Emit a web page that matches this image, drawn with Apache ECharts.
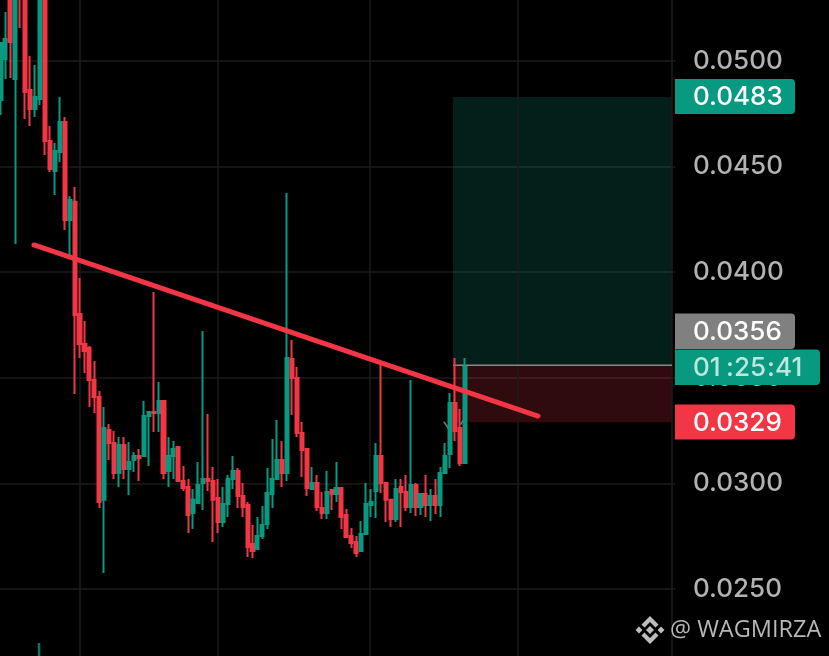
<!DOCTYPE html>
<html><head><meta charset="utf-8">
<style>html,body{margin:0;padding:0;background:#000}#c{width:829px;height:656px}</style>
<script src="https://cdn.jsdelivr.net/npm/echarts@6/dist/echarts.min.js"></script>
</head><body><div id="c"></div>
<script>
const opens=[.04815,.05010,.0535,.04915,.0537,.0535,.04863,.04773,.04820,.0535,.04621,.04479,.04569,.04711,.04247,.04333,.03802,.03660,.03641,.03490,.03409,.02922,.03253,.03191,.03049,.03182,.03068,.03111,.03130,.03130,.03319,.03338,.03333,.03390,.03059,.03130,.03172,.03011,.02983,.02860,.02907,.03002,.03021,.03011,.02931,.02817,.02903,.03021,.03059,.02940,.02898,.02713,.02689,.02751,.02808,.02950,.03021,.03111,.03049,.03589,.03499,.03239,.03163,.02973,.03002,.02884,.02860,.02969,.02950,.02978,.02850,.02751,.02723,.02680,.02761,.02898,.02964,.03130,.03002,.02922,.02832,.02983,.02959,.02888,.02993,.02888,.02950,.02898,.02940,.02898,.03049,.03139,.03381,.03262,.03097];
const closes=[.05085,.05104,.05090,.0535,.0532,.04853,.04773,.04830,.0535,.04621,.04489,.04574,.04711,.04247,.04342,.03797,.03660,.03627,.03490,.03409,.02912,.03262,.03191,.03049,.03182,.03068,.03101,.03130,.03120,.03319,.03338,.03333,.03390,.03049,.03130,.03163,.03011,.02978,.02850,.02922,.02993,.03021,.03011,.02922,.02817,.02903,.03021,.03059,.02940,.02888,.02699,.02680,.02751,.02803,.02955,.03021,.03111,.03049,.03594,.03499,.03239,.03158,.02978,.03002,.02888,.02860,.02959,.02950,.02978,.02841,.02746,.02718,.02671,.02761,.02903,.02912,.03130,.03002,.02922,.02832,.02973,.02959,.02888,.02993,.02888,.02950,.02898,.02940,.02898,.03049,.03130,.03381,.03248,.03097,.03551];
const lows=[.04744,.04915,.04920,.04134,.05156,.04725,.04692,.04735,.04792,.04555,.04475,.04366,.04522,.04200,.04077,.03423,.03594,.03523,.03362,.03333,.02884,.02576,.03111,.03021,.02983,.03021,.02945,.03054,.03011,.03130,.03082,.03243,.03243,.03021,.02983,.03021,.03011,.02964,.02765,.02784,.02907,.02874,.02964,.02723,.02765,.02794,.02841,.02973,.02884,.02841,.02652,.02647,.02689,.02737,.02784,.02884,.03021,.02983,.03011,.03324,.03220,.03030,.02940,.02969,.02869,.02832,.02832,.02874,.02912,.02784,.02746,.02694,.02652,.02680,.02761,.02841,.02836,.02955,.02817,.02794,.02817,.02794,.02869,.02860,.02846,.02850,.02841,.02822,.02855,.02841,.03049,.03073,.03201,.03082,.03097];
const highs=[.05085,.05232,.0537,.0537,.0537,.0537,.05024,.04981,.0537,.0537,.04692,.04612,.04830,.04735,.04361,.04404,.03973,.03769,.03651,.03580,.03438,.03362,.03281,.03248,.03220,.03220,.03196,.03149,.03163,.03390,.03338,.03906,.03480,.03390,.03220,.03201,.03172,.03082,.03021,.02973,.03101,.03722,.03329,.03078,.03021,.02983,.03040,.03130,.03073,.03002,.02912,.02803,.02841,.02893,.03073,.03210,.03300,.03201,.04375,.03679,.03551,.03291,.03163,.03078,.03040,.02959,.03059,.02969,.03101,.02978,.02879,.02789,.02751,.02822,.03002,.02973,.03191,.03561,.03002,.02922,.03021,.03021,.03040,.03490,.03002,.02950,.03040,.02973,.03021,.03078,.03191,.03428,.03594,.03352,.03594];
const slotCount=137;
const categories=Array.from({length:slotCount},(_,i)=>String(i));
const trendLine=[[7.28,.04129],[109.27,.03319]];
const stubWick=[[8.3,.02244],[8.3,.0215]];
const chevron=[[90.2,.03292],[91.2,.03259],null,[93.6,.03278],[94.2,.03300]];
const timeGrid=[16.6,44.5,75.3,105.2,136.4];
const priceAxisMin=.02, priceAxisMax=.055, priceStep=.005;
const targetPrice=.0483, entryPrice=.0356, stopPrice=.0329;
const zoneStart=92.07, zoneEnd=136.4;
const tags=[
 {parts:[['0.0483',693]],bg:'#089981',fg:'#fff',top:79,h:35,w:120},
 {parts:[['0.0356',693]],bg:'#808080',fg:'#fff',top:313.5,h:35.5,w:120},
 {parts:[['0.0329',693]],bg:'#f23645',fg:'#fff',top:404.5,h:35,w:120},
 {parts:[['01',693],[':',726],['25',734],[':',767],['41',775]],bg:'#089981',fg:'#bde6dd',top:349.5,h:35.5,w:145}
];
const RED='#f23645', GREEN='#089981', GRID='#1b1b1b';
const chart=echarts.init(document.getElementById('c'),null,{renderer:'canvas'});
const FONT='Inter';
const graphic=[];
tags.forEach(t=>{
 graphic.push({type:'rect',z:50,shape:{x:675,y:t.top,width:t.w,height:t.h,r:[0,4,4,0]},style:{fill:t.bg}});
 t.parts.forEach(p=>graphic.push({type:'text',z:51,x:p[1],y:t.top+t.h/2+1,style:{text:p[0],fill:t.fg,font:'500 26px '+FONT,textVerticalAlign:'middle'}}));
});
const cx=650,cy=630;
const logo=[
 [[0,-4],[4,0],[0,4],[-4,0]],
 [[-11,-3.5],[-7.5,0],[-11,3.5],[-14.5,0]],
 [[11,-3.5],[14.5,0],[11,3.5],[7.5,0]],
 [[0,-14],[8.5,-5.5],[5.5,-2.5],[0,-8],[-5.5,-2.5],[-8.5,-5.5]],
 [[0,14],[8.5,5.5],[5.5,2.5],[0,8],[-5.5,2.5],[-8.5,5.5]]
];
logo.forEach(p=>graphic.push({type:'polygon',z:50,shape:{points:p.map(q=>[q[0]+cx,q[1]+cy])},style:{fill:'#bdbdbd'}}));
graphic.push({type:'text',z:50,x:670,y:630,style:{text:'@ WAGMIRZA',fill:'#b8b8b8',font:'23.5px "Open Sans"',textVerticalAlign:'middle'}});
chart.setOption({
 animation:false,backgroundColor:'#000',
 grid:{left:-2,top:-44.6,width:677,height:739.2,containLabel:false,show:false,outerBoundsMode:'none'},
 xAxis:[
  {type:'category',data:categories,show:false,boundaryGap:true},
  {type:'value',min:0,max:slotCount,show:false,splitLine:{show:false}}
 ],
 yAxis:{type:'value',position:'right',min:priceAxisMin,max:priceAxisMax,interval:priceStep,
  axisLine:{show:false},axisTick:{show:false},
  splitLine:{show:true,lineStyle:{color:GRID,width:1.5}},
  axisLabel:{show:true,margin:18,color:'#b2b2b2',fontFamily:FONT,fontSize:26,fontWeight:500,padding:[3,0,0,0],formatter:v=>v.toFixed(4)}},
 series:[
  {type:'line',xAxisIndex:1,data:[],z:1,silent:true,symbol:'none',
   markLine:{silent:true,symbol:'none',label:{show:false},z:1,lineStyle:{color:GRID,width:1.5,type:'solid'},
    data:timeGrid.map(v=>({xAxis:v}))},
   markArea:{silent:true,z:1,data:[
    [{xAxis:zoneStart,yAxis:targetPrice,itemStyle:{color:'rgba(8,153,129,0.2)'}},{xAxis:zoneEnd,yAxis:entryPrice}],
    [{xAxis:zoneStart,yAxis:entryPrice,itemStyle:{color:'rgba(242,54,69,0.2)'}},{xAxis:zoneEnd,yAxis:stopPrice}]
   ]}},
  {type:'line',xAxisIndex:1,data:[[zoneStart,entryPrice],[zoneEnd,entryPrice]],z:2,silent:true,symbol:'none',lineStyle:{color:'#8a8a8a',width:1.5}},
  {type:'line',xAxisIndex:1,data:chevron,z:2,silent:true,symbol:'none',connectNulls:false,lineStyle:{color:'#777',width:1.5}},
  {type:'line',xAxisIndex:1,data:stubWick,z:3,silent:true,symbol:'none',lineStyle:{color:'#0a7563',width:2.5}},
  {type:'candlestick',xAxisIndex:0,z:4,barWidth:3.6,silent:true,clip:true,
   data:opens.map((o,i)=>[o,closes[i],lows[i],highs[i]]),
   itemStyle:{color:GREEN,color0:RED,borderColor:GREEN,borderColor0:RED,borderWidth:2}},
  {type:'line',xAxisIndex:1,data:trendLine,z:5,silent:true,symbol:'none',lineStyle:{color:RED,width:5,cap:'round'}}
 ],
 graphic:{elements:graphic}
});
</script></body></html>
